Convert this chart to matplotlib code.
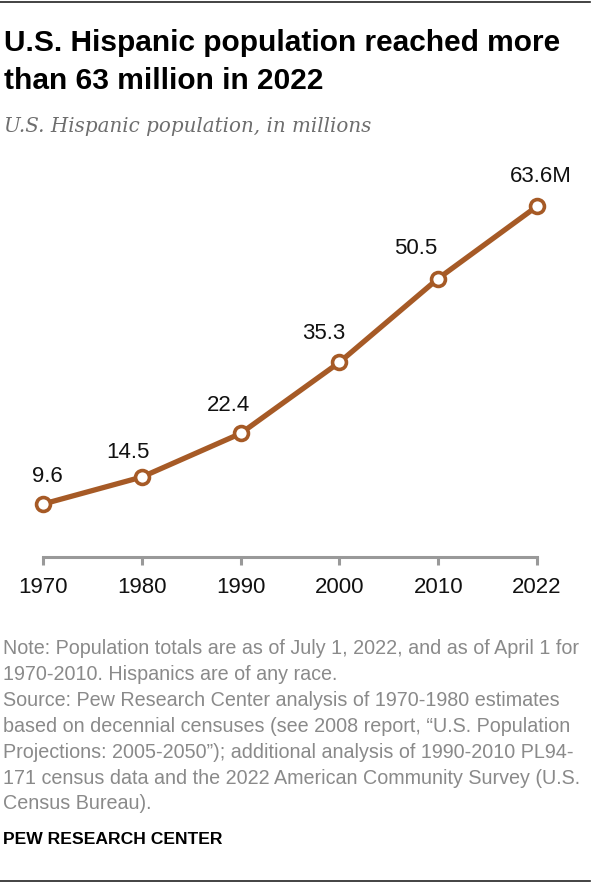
import matplotlib
matplotlib.use("Agg")
import matplotlib.pyplot as plt
from matplotlib.lines import Line2D

years = ["1970", "1980", "1990", "2000", "2010", "2022"]
population = [9.6, 14.5, 22.4, 35.3, 50.5, 63.6]
value_labels = ["9.6", "14.5", "22.4", "35.3", "50.5", "63.6M"]

title = "U.S. Hispanic population reached more\nthan 63 million in 2022"
subtitle = "U.S. Hispanic population, in millions"
note = ("Note: Population totals are as of July 1, 2022, and as of April 1 for\n"
        "1970-2010. Hispanics are of any race.\n"
        "Source: Pew Research Center analysis of 1970-1980 estimates\n"
        "based on decennial censuses (see 2008 report, \u201cU.S. Population\n"
        "Projections: 2005-2050\u201d); additional analysis of 1990-2010 PL94-\n"
        "171 census data and the 2022 American Community Survey (U.S.\n"
        "Census Bureau).")

# label offsets in pixels (dx, dy) relative to each point
label_offsets = [(4, 28), (-14, 25), (-12, 28), (-16, 29), (-23, 30), (4, 30)]

brown = "#A65A26"
sans = ["Liberation Sans", "DejaVu Sans"]

W, H = 599, 885
fig = plt.figure(figsize=(W / 100, H / 100), dpi=100)
ax = fig.add_axes([43 / W, (H - 557) / H, 494 / W, 386 / H])

x = list(range(len(years)))
ax.plot(x, population, color=brown, lw=3.8, solid_capstyle="round", zorder=2,
        marker="o", markersize=10, markerfacecolor="white",
        markeredgecolor=brown, markeredgewidth=2.6, clip_on=False)

px = 72 / 100  # pixels -> points
for i, (v, lab) in enumerate(zip(population, value_labels)):
    dx, dy = label_offsets[i]
    ax.annotate(lab, (i, v), xytext=(dx * px, dy * px), textcoords="offset points",
                ha="center", va="center", fontsize=16, family=sans, color="#111111")

ax.set_xlim(0, 5)
ax.set_ylim(0, 70)
ax.set_xticks(x)
ax.set_xticklabels(years, family=sans, fontsize=16, color="#111111")
ax.set_yticks([])
for s in ["top", "right", "left"]:
    ax.spines[s].set_visible(False)
ax.spines["bottom"].set_color("#999999")
ax.spines["bottom"].set_linewidth(2.2)
ax.tick_params(axis="x", length=6, width=2.2, color="#999999", pad=8.5)

# text blocks
fig.text(4 / W, 1 - 43 / H, title.split("\n")[0], family=sans, weight="bold",
         fontsize=21.5, va="center", ha="left", color="black")
fig.text(4 / W, 1 - 81 / H, title.split("\n")[1], family=sans, weight="bold",
         fontsize=21.5, va="center", ha="left", color="black")
fig.text(4 / W, 1 - 127 / H, subtitle, family=["DejaVu Serif"],
         style="italic", fontsize=14.3, color="#6e6e6e", va="center", ha="left")
fig.text(3 / W, 1 - 639 / H, note, family=sans, fontsize=14.2, color="#8a8a8a",
         va="top", ha="left", linespacing=1.46)
fig.text(3 / W, 1 - 840 / H, "PEW RESEARCH CENTER", family=sans, weight="bold",
         fontsize=12.6, color="black", va="center", ha="left")

fig.add_artist(Line2D([0, 590 / W], [1 - 2 / H, 1 - 2 / H], color="#222222", lw=1.2))
fig.add_artist(Line2D([0, 590 / W], [1 - 881 / H, 1 - 881 / H], color="#222222", lw=1.2))

fig.savefig("out.png", dpi=100)
